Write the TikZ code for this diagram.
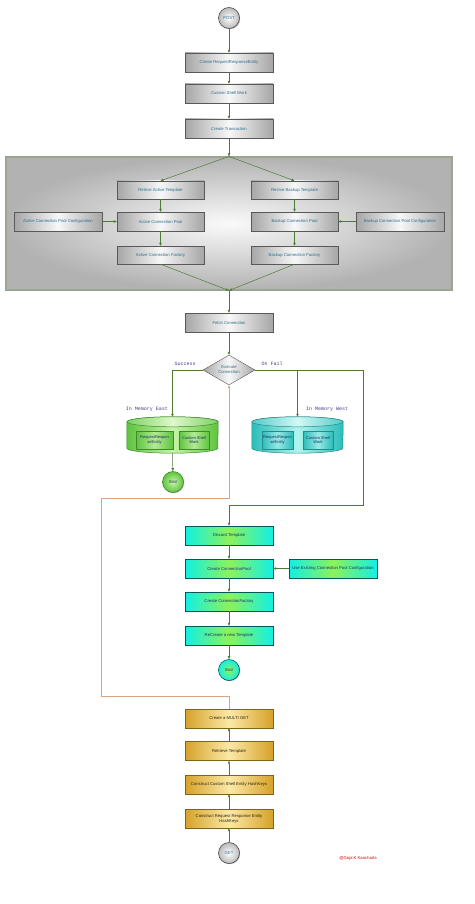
\documentclass[tikz,border=0pt]{standalone}
\usepackage{fontspec}
\setmainfont{Liberation Sans}
\newfontfamily\monof{Liberation Mono}
\usetikzlibrary{arrows.meta,shapes.geometric,shadows,calc}
\definecolor{lnk}{HTML}{4E7A36}
\definecolor{orln}{HTML}{DDA57E}
\definecolor{boxg}{HTML}{A6A6A6}
\definecolor{tealtxt}{HTML}{2A6E8E}
\definecolor{navytxt}{HTML}{1E2E66}
\definecolor{goldtxt}{HTML}{2E2610}
\definecolor{cyanE}{HTML}{12F0E4}
\definecolor{cyanM}{HTML}{8CF25A}
\definecolor{goldE}{HTML}{D6A22A}
\definecolor{goldM}{HTML}{FBE9A6}
\definecolor{lblc}{HTML}{4B3C8C}
\definecolor{contb}{HTML}{9AA592}
\definecolor{gcE}{HTML}{5EC43E}
\definecolor{gcM}{HTML}{C8F4AA}
\definecolor{gcB}{HTML}{3F8A2C}
\definecolor{ccE}{HTML}{2BBDBA}
\definecolor{ccM}{HTML}{B2F4F0}
\definecolor{ccB}{HTML}{2A8A88}
\newcommand{\dbcyl}[4]{%
  \path[draw=#4, line width=0.5pt, left color=#2, right color=#2, middle color=#3]
    ($(#1.north west)+(0,5)$) -- ($(#1.south west)+(0,-5)$)
    arc[start angle=180, end angle=360, x radius=45.5pt, y radius=5pt]
    -- ($(#1.north east)+(0,5)$)
    arc[start angle=0, end angle=180, x radius=45.5pt, y radius=5pt] -- cycle;
  \path[draw=#4, line width=0.5pt, left color=#2!80!white, right color=#2!80!white, middle color=#3!60!white]
    ($(#1.north)+(0,5)$) ellipse[x radius=45.5pt, y radius=5pt];
}
\begin{document}
\begin{tikzpicture}[x=1pt,y=-1pt,
  box/.style={rectangle, minimum width=88pt, minimum height=19pt, inner sep=1pt,
    font=\fontsize{4.2}{5}\selectfont, align=center,
    drop shadow={shadow xshift=0.9pt, shadow yshift=-0.9pt, opacity=0.35, fill=black}},
  greybox/.style={box, draw=gray!70!black, line width=0.4pt, left color=boxg, right color=boxg, middle color=white!94!gray, text=tealtxt},
  cyanbox/.style={box, draw=teal!70!black, line width=0.4pt, left color=cyanE, right color=cyanE, middle color=cyanM, text=navytxt},
  goldbox/.style={box, draw=goldE!60!black, line width=0.4pt, left color=goldE, right color=goldE, middle color=goldM, text=goldtxt},
  startc/.style={circle, minimum size=21pt, inner sep=0pt, draw=gray!60!black, line width=0.6pt,
    inner color=white, outer color=gray!55, font=\fontsize{4.2}{5}\selectfont, text=tealtxt,
    drop shadow={shadow xshift=0.7pt, shadow yshift=-0.7pt, opacity=0.3, fill=black}},
  endg/.style={startc, draw=gcB, inner color=gcM, outer color=gcE, text=navytxt},
  endc/.style={startc, draw=teal!70!black, inner color=cyanM, outer color=cyanE, text=navytxt},
  link/.style={draw=lnk, line width=0.5pt, -{Triangle[length=3pt,width=2.4pt]}},
  plain/.style={draw=lnk, line width=0.5pt},
  olink/.style={draw=orln, line width=0.6pt, -{Triangle[length=3pt,width=2.4pt]}},
  lbl/.style={font=\monof\fontsize{5}{6}\selectfont, text=lblc, inner sep=0pt},
  dbslot/.style={rectangle, minimum width=91pt, minimum height=36pt, inner sep=0pt},
  inbE/.style={rectangle, minimum height=18pt, inner sep=0.5pt, align=center, font=\fontsize{4}{4.6}\selectfont,
    draw=gcB, line width=0.4pt, left color=gcE, right color=gcE, middle color=gcM!80!gcE, text=navytxt},
  inbW/.style={rectangle, minimum height=18pt, inner sep=0.5pt, align=center, font=\fontsize{4}{4.6}\selectfont,
    draw=ccB, line width=0.4pt, left color=ccE, right color=ccE, middle color=ccM!80!ccE, text=navytxt}
]
\useasboundingbox (0,0) rectangle (474,904);
\fill[white] (0,0) rectangle (474,904);

% top
\node[startc] (post) at (229,18) {POST};
\node[greybox] (crre) at (229,62.5) {Create RequestResponseEntity};
\node[greybox] (csw) at (229,93.5) {Custom Shell Work};
\node[greybox] (ct) at (229,128.5) {Create Transaction};

% container
\node[rectangle, minimum width=446pt, minimum height=133pt, draw=contb, line width=1.1pt,
  inner color=white!96!gray, outer color=gray!60] (cont) at (229,223.5) {};

\node[greybox, minimum width=87pt, minimum height=18pt] (rat) at (160.5,190) {Retrive Active Template};
\node[greybox, minimum width=87pt] (acp) at (160.5,221.5) {Active Connection Pool};
\node[greybox, minimum width=87pt, minimum height=18pt] (acf) at (160.5,255) {Active Connection Factory};
\node[greybox] (acpc) at (58,221.5) {Active Connection Pool Configuration};
\node[greybox, minimum width=87pt, minimum height=18pt] (rbt) at (294.5,190) {Retrive Backup Template};
\node[greybox, minimum width=87pt] (bcp) at (294.5,221.5) {Backup Connection Pool};
\node[greybox, minimum width=87pt, minimum height=18pt] (bcf) at (294.5,255) {Backup Connection Factory};
\node[greybox] (bcpc) at (400,221.5) {Backup Connection Pool Configuration};

\node[greybox] (fc) at (229,322.5) {Fetch Connection};
\node[diamond, aspect=1.7, minimum width=52pt, minimum height=30pt, inner sep=0pt, draw=gray!70!black, line width=0.4pt,
  left color=boxg, right color=boxg, middle color=white!94!gray, text=tealtxt, align=center,
  font=\fontsize{4.2}{5}\selectfont] (exec) at (229,370) {Execute\\Connection};

\node[lbl] (succ) at (185,364) {Success};
\node[lbl] (onf) at (272,364) {On Fail};

% cylinders
\node[dbslot] (east) at (172.5,435) {};
\dbcyl{east}{gcE}{gcM}{gcB}
\node[dbslot] (west) at (297.5,435) {};
\dbcyl{west}{ccE}{ccM}{ccB}
\node[inbE, minimum width=37pt] (e1) at (154.5,440) {RequestRespon\\seEntity};
\node[inbE, minimum width=30pt] (e2) at (194,440) {Custom Shell\\Work};
\node[inbW, minimum width=31pt] (w1) at (277.5,440) {RequestRespon\\seEntity};
\node[inbW, minimum width=30pt] (w2) at (318,440) {Custom Shell\\Work};
\node[lbl] (ime) at (147,409) {In Memory East};
\node[lbl] (imw) at (327,409) {In Memory West};
\node[endg] (end1) at (173,482) {End};

% cyan section
\node[cyanbox] (disc) at (229,535.5) {Discard Template};
\node[cyanbox] (ccp) at (229,568.5) {Create ConnectionPool};
\node[cyanbox] (ccf) at (229,601.5) {Create ConnectionFactory};
\node[cyanbox] (rnt) at (229,635.5) {ReCreate a new Template};
\node[endc] (end2) at (229,670) {End};
\node[cyanbox] (uecp) at (333,568.5) {Use Existing Connection Pool Configuration};

% gold section
\node[goldbox] (mget) at (229,718.5) {Create a MULTI GET};
\node[goldbox] (rt) at (229,751) {Retrieve Template};
\node[goldbox] (cch) at (229,784.5) {Construct Custom Shell Entity HashKeys};
\node[goldbox] (crh) at (229,818.5) {Construct Request Response Entity\\HashKeys};
\node[startc] (get) at (229,853) {GET};

\node[font=\fontsize{4.2}{5}\selectfont, text=red!85!black, inner sep=0pt] (credit) at (358,858) {@Gopi K Kancharla};

% coordinates
\coordinate (split) at (cont.north);
\coordinate (merge) at (cont.south);
\coordinate (br) at (west.north |- exec.east);
\coordinate (fr) at (363,370);
\coordinate (fb) at (363,505);
\coordinate (o1) at (229,696);
\coordinate (o2) at (101,696);
\coordinate (o3) at (101,498);
\coordinate (o4) at (229,498);

% connectors
\draw[link] (post) -- (crre);
\draw[link] (crre) -- (csw);
\draw[link] (csw) -- (ct);
\draw[link] (ct) -- (split);
\draw[link] (split) -- (rat.north);
\draw[link] (split) -- (rbt.north);
\draw[link] (rat) -- (acp);
\draw[link] (acp) -- (acf);
\draw[link] (rbt) -- (bcp);
\draw[link] (bcp) -- (bcf);
\draw[link] (acpc) -- (acp);
\draw[link] (bcpc) -- (bcp);
\draw[link] (acf.south) -- (merge);
\draw[link] (bcf.south) -- (merge);
\draw[link] (merge) -- (fc);
\draw[link] (fc) -- (exec);
\draw[link] (exec.west) -| (east.north);
\draw[plain] (exec.east) -- (fr);
\draw[link] (br) -- (west.north);
\draw[link] (fr) -- (fb) -| (disc.north);
\draw[link] (east.south) -- (end1);
\draw[link] (disc) -- (ccp);
\draw[link] (ccp) -- (ccf);
\draw[link] (ccf) -- (rnt);
\draw[link] (rnt) -- (end2);
\draw[link] (uecp) -- (ccp);
\draw[link] (get) -- (crh);
\draw[link] (crh) -- (cch);
\draw[link] (cch) -- (rt);
\draw[link] (rt) -- (mget);
\draw[olink] (mget.north) -- (o1) -- (o2) -- (o3) -- (o4) -- (exec.south);
\end{tikzpicture}
\end{document}
